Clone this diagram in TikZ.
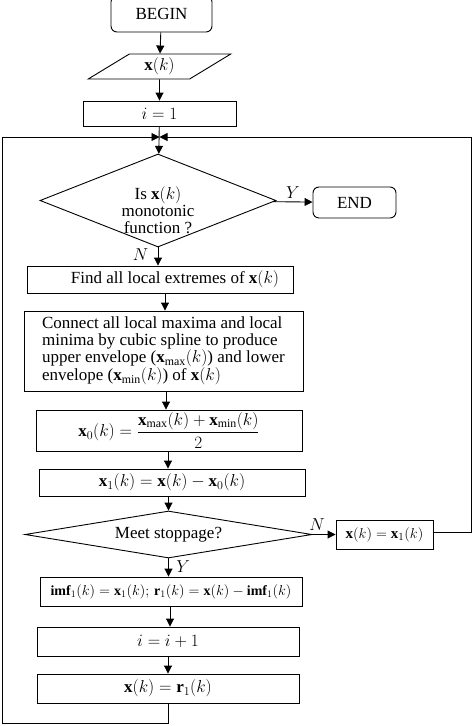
\documentclass[tikz,border=0pt]{standalone}
\usepackage{amsmath}
\usepackage{fontspec}
\setmainfont{Liberation Serif}
\usetikzlibrary{shapes.geometric,arrows.meta}

\newcommand{\xk}{\ensuremath{\mathbf{x}(k)}}

\begin{document}
\begin{tikzpicture}[x=1pt,y=-1pt,>={Triangle[length=8pt,width=8pt]},
                    line width=0.9pt,font=\fontsize{17}{17}\selectfont,
                    box/.style={draw,rectangle,inner sep=2pt},
                    term/.style={draw,rectangle,rounded corners=6pt,inner sep=2pt},
                    io/.style={draw,trapezium,trapezium left angle=40,
                               trapezium right angle=140,trapezium stretches=true,
                               inner sep=0pt},
                    decision/.style={draw,diamond,inner sep=0pt,align=center}]

  \useasboundingbox (0,0) rectangle (474,726);

  \node[term,minimum width=101pt,minimum height=36pt] (begin) at (161.5,14)    {BEGIN};
  \node[io,minimum width=143pt,minimum height=25pt]   (input) at (159.5,66.5)  {\xk};
  \node[box,minimum width=153pt,minimum height=25pt]  (init)  at (159.5,113.5) {$i=1$};
  \node[decision,aspect=2.54,minimum width=236pt,minimum height=93pt] (mono) at (158,200.5)
        {\raisebox{-12pt}[\height][\depth]{\begin{tabular}{@{}c@{}}
           Is \xk\\monotonic\\function ?\end{tabular}}};
  \node[term,minimum width=83pt,minimum height=31pt]  (end)   at (354.5,202.5) {END};
  \node[box,minimum width=266pt,minimum height=27pt]  (find)  at (160,279.5)
        {\hspace*{30pt}Find all local extremes of \xk};
  \node[box,minimum width=279pt,minimum height=80pt,align=left] (spline) at (163.5,351)
        {Connect all local maxima and local\\
         minima by cubic spline to produce\\
         upper envelope ($\mathbf{x}_{\max}(k)$) and lower\\
         envelope ($\mathbf{x}_{\min}(k)$) of \xk};
  \node[box,minimum width=266pt,minimum height=41pt]  (mean)  at (169,430.5)
        {$\mathbf{x}_0(k)=\dfrac{\mathbf{x}_{\max}(k)+\mathbf{x}_{\min}(k)}{2}$};
  \node[box,minimum width=266pt,minimum height=27pt]  (diff)  at (172,482.5)
        {$\mathbf{x}_1(k)=\mathbf{x}(k)-\mathbf{x}_0(k)$};
  \node[decision,aspect=6.1,minimum width=287pt,minimum height=47pt] (stop) at (168.5,534.5)
        {Meet stoppage?};
  \node[box,minimum width=97pt,minimum height=29pt,font=\fontsize{15}{17}\selectfont]
        (upd) at (384.5,534.5) {$\mathbf{x}(k)=\mathbf{x}_1(k)$};
  \node[box,minimum width=262pt,minimum height=29pt,font=\fontsize{14}{17}\selectfont]
        (imf) at (171,591.5)
        {$\mathbf{imf}_1(k)=\mathbf{x}_1(k);\,\mathbf{r}_1(k)=\mathbf{x}(k)-\mathbf{imf}_1(k)$};
  \node[box,minimum width=262pt,minimum height=29pt]  (inc)   at (168,641.5) {$i=i+1$};
  \node[box,minimum width=262pt,minimum height=29pt]  (res)   at (168,688.5)
        {$\mathbf{x}(k)=\mathbf{r}_1(k)$};

  \coordinate (merge) at (159.5,137);
  \coordinate (loopL) at (2,723);
  \coordinate (loopR) at (471,532);

  % main line
  \draw[->] (begin) -- (input);
  \draw[->] (input) -- (init);
  \draw[->] (init) -- (mono);
  \draw[->] (mono) -- node[above]{$Y$} (end);
  \draw[->] (mono) -- node[left,pos=0.4,xshift=-6pt]{$N$} (mono.south |- find.north);
  \draw[->] (find.south -| 165,0) -- (spline.north -| 165,0);
  \draw[->] (spline.south -| 166,0) -- (mean.north -| 166,0);
  \draw[->] (mean.south -| 168,0) -- (diff.north -| 168,0);
  \draw[->] (diff.south -| 168.5,0) -- (stop);
  \draw[->] (stop) -- node[above,pos=0.2]{$N$} (upd);
  \draw[->] (stop) -- node[right,pos=0.45,xshift=4pt]{$Y$} (stop.south |- imf.north);
  \draw[->] (imf.south -| 170,0) -- (inc.north -| 170,0);
  \draw[->] (inc) -- (res);

  % loops back
  \draw[->] (res.south) -- (res.south |- loopL) -- (loopL) -- (loopL |- merge) -- (merge);
  \draw[->] (upd.east |- loopR) -- (loopR) -- (loopR |- merge) -- (merge);
\end{tikzpicture}
\end{document}
